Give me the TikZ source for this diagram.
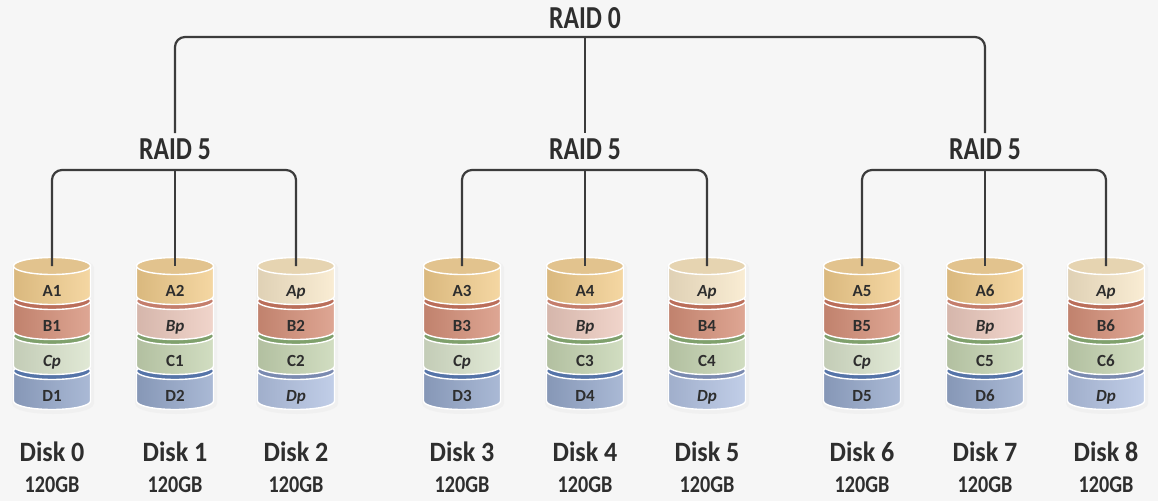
\documentclass[tikz,border=0pt]{standalone}
\usepackage{fontspec}
\setmainfont{Carlito}
\definecolor{bgc}{HTML}{F6F6F6}
\definecolor{linec}{HTML}{3C3C3C}
\definecolor{txtc}{HTML}{2E2E2E}
\definecolor{colA}{HTML}{F2CD8C}
\definecolor{colAp}{HTML}{F8E8C9}
\definecolor{topA}{HTML}{E2C38E}
\definecolor{topAp}{HTML}{E6D4B1}
\definecolor{colB}{HTML}{D69079}
\definecolor{colBp}{HTML}{EDCABE}
\definecolor{topB}{HTML}{BA6E5A}
\definecolor{topBp}{HTML}{C47E6C}
\definecolor{colC}{HTML}{C6D5B2}
\definecolor{colCp}{HTML}{D9E3CB}
\definecolor{topC}{HTML}{7FA06C}
\definecolor{topCp}{HTML}{7FA06C}
\definecolor{colD}{HTML}{95A8CB}
\definecolor{colDp}{HTML}{B2C2E2}
\definecolor{topD}{HTML}{5574A8}
\definecolor{topDp}{HTML}{7A8AB0}
\tikzset{
  link/.style={draw=linec, line width=2.2pt, rounded corners=10pt},
  celltxt/.style={text=txtc, font=\bfseries\fontsize{17}{17}\selectfont, inner sep=0pt, anchor=base},
  raidtxt/.style={text=txtc, font=\bfseries\fontsize{32}{32}\selectfont, inner sep=0pt, anchor=base},
  disktxt/.style={text=txtc, font=\bfseries\fontsize{28}{28}\selectfont, inner sep=0pt, anchor=base},
  sizetxt/.style={text=txtc, font=\bfseries\fontsize{24}{24}\selectfont, inner sep=0pt, anchor=base},
}
% #1 cx, #2 layer index 0..3, #3 letter, #4 text, #5 p (parity) or d (data)
\newcommand\mycell[5]{%
  \pgfmathsetmacro\yt{266+35*#2}%
  \pgfmathsetmacro\yb{266+35*#2+30}%
  \pgfmathsetmacro\xl{#1-38.5}%
  \pgfmathsetmacro\xr{#1+38.5}%
  \if p#5\def\sidecol{col#3p}\def\topcol{top#3p}\def\cellfont{\itshape}%
  \else\def\sidecol{col#3}\def\topcol{top#3}\def\cellfont{}\fi
  \path[draw=white, line width=1.4pt, left color=\sidecol!90!black, right color=\sidecol!80!white]
    (\xl,\yt) -- (\xl,\yb) arc[start angle=180, end angle=360, x radius=38.5pt, y radius=8.5pt]
    -- (\xr,\yt) arc[start angle=0, end angle=180, x radius=38.5pt, y radius=8.5pt] -- cycle;
  \path[draw=white, line width=1.4pt, fill=\topcol] (#1,\yt) ellipse[x radius=38.5pt, y radius=8.5pt];
  \node[celltxt] (c#1-#2) at (#1,{\yt+30.5}) {\cellfont #4};
}
% #1 cx, #2 disk number
\newcommand\mydiskbase[2]{%
  \pgfmathsetmacro\xl{#1-38.5}%
  \pgfmathsetmacro\xr{#1+38.5}%
  \path[fill=black!10, draw=black!6, line width=5pt]
    (\xl+1,268) -- (\xl+1,403) arc[start angle=180, end angle=360, x radius=38.5pt, y radius=8.5pt]
    -- (\xr+1,268) arc[start angle=0, end angle=180, x radius=38.5pt, y radius=8.5pt] -- cycle;
  \coordinate (dk#2) at (#1,266);
  \node[disktxt] (lab#2) at (#1,461) {\scalebox{0.93}[1]{Disk #2}};
  \node[sizetxt] (gb#2) at (#1,492) {\scalebox{0.84}[1]{120GB}};
}
\begin{document}
\begin{tikzpicture}[x=1pt,y=-1pt]
\fill[bgc] (0,0) rectangle (1158,501);
\useasboundingbox (0,0) rectangle (1158,501);

% disks
\mydiskbase{52}{0}
\mycell{52}{3}{D}{D1}{d}\mycell{52}{2}{C}{Cp}{p}\mycell{52}{1}{B}{B1}{d}\mycell{52}{0}{A}{A1}{d}
\mydiskbase{175}{1}
\mycell{175}{3}{D}{D2}{d}\mycell{175}{2}{C}{C1}{d}\mycell{175}{1}{B}{Bp}{p}\mycell{175}{0}{A}{A2}{d}
\mydiskbase{296}{2}
\mycell{296}{3}{D}{Dp}{p}\mycell{296}{2}{C}{C2}{d}\mycell{296}{1}{B}{B2}{d}\mycell{296}{0}{A}{Ap}{p}

\mydiskbase{462}{3}
\mycell{462}{3}{D}{D3}{d}\mycell{462}{2}{C}{Cp}{p}\mycell{462}{1}{B}{B3}{d}\mycell{462}{0}{A}{A3}{d}
\mydiskbase{585}{4}
\mycell{585}{3}{D}{D4}{d}\mycell{585}{2}{C}{C3}{d}\mycell{585}{1}{B}{Bp}{p}\mycell{585}{0}{A}{A4}{d}
\mydiskbase{707}{5}
\mycell{707}{3}{D}{Dp}{p}\mycell{707}{2}{C}{C4}{d}\mycell{707}{1}{B}{B4}{d}\mycell{707}{0}{A}{Ap}{p}

\mydiskbase{862}{6}
\mycell{862}{3}{D}{D5}{d}\mycell{862}{2}{C}{Cp}{p}\mycell{862}{1}{B}{B5}{d}\mycell{862}{0}{A}{A5}{d}
\mydiskbase{985}{7}
\mycell{985}{3}{D}{D6}{d}\mycell{985}{2}{C}{C5}{d}\mycell{985}{1}{B}{Bp}{p}\mycell{985}{0}{A}{A6}{d}
\mydiskbase{1106}{8}
\mycell{1106}{3}{D}{Dp}{p}\mycell{1106}{2}{C}{C6}{d}\mycell{1106}{1}{B}{B6}{d}\mycell{1106}{0}{A}{Ap}{p}

% labels
\node[raidtxt] (r0) at (585,28) {\scalebox{0.8}[1]{RAID 0}};
\node[raidtxt] (r5a) at (175,159) {\scalebox{0.8}[1]{RAID 5}};
\node[raidtxt] (r5b) at (585,159) {\scalebox{0.8}[1]{RAID 5}};
\node[raidtxt] (r5c) at (985,159) {\scalebox{0.8}[1]{RAID 5}};

% connector points
\coordinate (t0) at (585,37);
\coordinate (ua) at (175,133);
\coordinate (ub) at (585,133);
\coordinate (uc) at (985,133);
\coordinate (ba) at (175,170);
\coordinate (bb) at (585,170);
\coordinate (bc) at (985,170);

\draw[link] (ua) |- (t0) -| (uc);
\draw[link] (t0) -- (ub);
\draw[link] (dk0) |- (ba) -| (dk2);
\draw[link] (ba) -- (dk1);
\draw[link] (dk3) |- (bb) -| (dk5);
\draw[link] (bb) -- (dk4);
\draw[link] (dk6) |- (bc) -| (dk8);
\draw[link] (bc) -- (dk7);
\end{tikzpicture}
\end{document}
